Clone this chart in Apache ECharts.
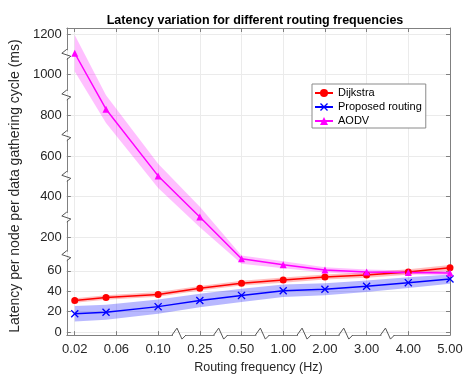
<!DOCTYPE html>
<html><head><meta charset="utf-8">
<script src="https://cdn.jsdelivr.net/npm/echarts@6/dist/echarts.min.js"></script>
<style>html,body{margin:0;padding:0;background:#fff}#c{width:474px;height:379px}</style>
</head><body><div id="c"></div>
<script>
// ---- data ----
const freqs = [0.02, 0.05, 0.10, 0.25, 0.50, 1.00, 2.00, 3.00, 4.00, 5.00];
const dijkstra    = [31, 34, 37, 43, 48, 51, 54, 56, 59, 63];
const dijkstraErr = [2.2, 2.2, 2.3, 2.3, 2.4, 2.5, 2.5, 2.6, 2.7, 2.8];
const proposed    = [18, 19.5, 25, 31, 36, 40.5, 42, 45, 48.5, 52];
const proposedErr = [7.6, 7.3, 7.0, 6.7, 6.4, 6.1, 5.9, 5.6, 5.2, 4.5];
const aodv        = [1105, 830, 502, 300, 72, 66, 61, 59, 58.5, 58];
const aodvErr     = [90, 68, 60, 50, 5, 3.5, 2.6, 2.5, 2, 2];
const xTickFreqs  = [0.02, 0.06, 0.10, 0.25, 0.50, 1.00, 2.00, 3.00, 4.00, 5.00];
const xTickLabels = ['0.02','0.06','0.10','0.25','0.50','1.00','2.00','3.00','4.00','5.00'];
const yTickValues = [0, 20, 40, 60, 200, 400, 600, 800, 1000, 1200];
const yTickLabels = ['0','20','40','60','200','400','600','800','1000','1200'];
const yBreakMarks = [1100, 900, 700, 500, 300, 92];
const xBreakMarks = [0.10, 0.25, 0.50, 1.00, 2.00, 3.00, 4.00];

// ---- broken-axis transforms ----
const upperCats = [0.25, 0.5, 1, 2, 3, 4, 5];
function xT(f) {
  if (f <= 0.10 + 1e-9) return (f - 0.02) / 0.04;
  for (let i = 0; i < upperCats.length; i++) if (Math.abs(upperCats[i] - f) < 1e-9) return 3 + i;
  return 3;
}
const LOW = 62 / 60, UP = 0.206;
function yT(v) {
  if (v <= 75) return v * LOW;
  if (v >= 110) return 96 + (v - 200) * UP;
  const a = 75 * LOW, b = 96 + (110 - 200) * UP;
  return a + (v - 75) / 35 * (b - a);
}
const xTickPos = xTickFreqs.map(xT);
const yTickPos = yTickValues.map(yT);
function xLab(v) { for (let i = 0; i < xTickPos.length; i++) if (Math.abs(xTickPos[i] - v) < 1e-3) return xTickLabels[i]; return ''; }
function yLab(v) { for (let i = 0; i < yTickPos.length; i++) if (Math.abs(yTickPos[i] - v) < 1e-3) return yTickLabels[i]; return ''; }

const AX = '#808080', TXT = '#262626', GRID = '#ebebeb';
const FONT = 'Liberation Sans, Arial, sans-serif';

function pts(vals) { return freqs.map((f, i) => [xT(f), yT(vals[i])]); }
function band(vals, errs, color, op) {
  return {
    type: 'custom', silent: true, z: 1,
    data: freqs.map((f, i) => [xT(f), yT(vals[i] - errs[i]), yT(vals[i] + errs[i])]),
    encode: { x: 0, y: [1, 2] },
    renderItem: function (params, api) {
      if (params.dataIndex !== 0) return null;
      const up = [], lo = [];
      for (let i = 0; i < freqs.length; i++) {
        up.push(api.coord([xT(freqs[i]), yT(vals[i] + errs[i])]));
        lo.push(api.coord([xT(freqs[i]), yT(vals[i] - errs[i])]));
      }
      return { type: 'polygon', shape: { points: up.concat(lo.reverse()) },
               style: { fill: color, opacity: op, stroke: null } };
    }
  };
}
const xSym = 'path://M0,1.2L1.2,0L5,3.8L8.8,0L10,1.2L6.2,5L10,8.8L8.8,10L5,6.2L1.2,10L0,8.8L3.8,5Z';

function xAxisBase(pos, main) {
  return {
    type: 'value', position: pos, min: -0.19, max: 9,
    axisLine: { show: true, onZero: false, lineStyle: { color: AX, width: 1 } },
    axisTick: { show: true, inside: true, length: 4, customValues: xTickPos, lineStyle: { color: AX } },
    axisLabel: { show: main, customValues: xTickPos, formatter: xLab, color: TXT, fontSize: 13, fontFamily: FONT, margin: 8 },
    splitLine: { show: main, lineStyle: { color: GRID, width: 1 } },
    name: main ? 'Routing frequency (Hz)' : '', nameLocation: 'middle', nameGap: 23,
    nameTextStyle: { color: TXT, fontSize: 12.5, fontFamily: FONT }
  };
}
function yAxisBase(pos, main) {
  return {
    type: 'value', position: pos, min: -3, max: 308,
    axisLine: { show: true, onZero: false, lineStyle: { color: AX, width: 1 } },
    axisTick: { show: true, inside: true, length: 4, customValues: yTickPos, lineStyle: { color: AX } },
    axisLabel: { show: main, customValues: yTickPos, formatter: yLab, color: TXT, fontSize: 13, fontFamily: FONT, margin: 5 },
    splitLine: { show: main, lineStyle: { color: GRID, width: 1 } },
    name: main ? 'Latency per node per data gathering cycle (ms)' : '', nameLocation: 'middle', nameGap: 33,
    nameTextStyle: { color: TXT, fontSize: 14, fontFamily: FONT, padding: [0, 0, 0, -9] }
  };
}

const chart = echarts.init(document.getElementById('c'));
chart.setOption({
  animation: false,
  backgroundColor: '#fff',
  title: { text: 'Latency variation for different routing frequencies', left: 250, textAlign: 'center', top: 9,
           textStyle: { fontSize: 12.5, fontWeight: 'bold', color: '#000', fontFamily: FONT } },
  grid: { left: 51, right: 24, top: 28, bottom: 40, containLabel: false },
  legend: {
    data: ['Dijkstra', 'Proposed routing', 'AODV'], orient: 'vertical', left: 312, top: 84,
    backgroundColor: '#fff', borderColor: '#8a8a8a', borderWidth: 1, padding: [2, 4, 0, 2],
    itemWidth: 18, itemHeight: 10, itemGap: 0,
    textStyle: { fontSize: 11, color: '#000', fontFamily: FONT, lineHeight: 14 }
  },
  xAxis: [xAxisBase('bottom', true), xAxisBase('top', false)],
  yAxis: [yAxisBase('left', true), yAxisBase('right', false)],
  series: [
    band(dijkstra, dijkstraErr, '#ff0000', 0.25),
    band(proposed, proposedErr, '#0000ff', 0.28),
    band(aodv, aodvErr, '#ff00ff', 0.25),
    { type: 'line', name: 'Dijkstra', data: pts(dijkstra), symbol: 'circle', symbolSize: 7, z: 3,
      lineStyle: { color: '#ff0000', width: 1.5 }, itemStyle: { color: '#ff0000' } },
    { type: 'line', name: 'Proposed routing', data: pts(proposed), symbol: xSym, symbolSize: 8, z: 3,
      lineStyle: { color: '#0000ff', width: 1.5 }, itemStyle: { color: '#0000ff' } },
    { type: 'line', name: 'AODV', data: pts(aodv), symbol: 'triangle', symbolSize: 7, z: 3,
      lineStyle: { color: '#ff00ff', width: 1.5 }, itemStyle: { color: '#ff00ff' } }
  ]
});

// axis-break zigzags positioned from the axes
const g = [];
yBreakMarks.forEach(v => {
  const p = chart.convertToPixel({ gridIndex: 0 }, [-0.19, yT(v)]);
  const x = p[0], y = p[1];
  g.push({ type: 'rect', shape: { x: x - 1, y: y - 4, width: 2, height: 8 }, style: { fill: '#fff' }, z: 10 });
  g.push({ type: 'polyline', z: 11, shape: { points: [[x, y - 5], [x - 5, y - 1], [x + 4, y + 2], [x, y + 5]] },
           style: { stroke: '#555', lineWidth: 1, fill: null } });
});
for (let i = 0; i < xBreakMarks.length - 1; i++) {
  const mid = (xT(xBreakMarks[i]) + xT(xBreakMarks[i + 1])) / 2;
  const p = chart.convertToPixel({ gridIndex: 0 }, [mid, -3]);
  const x = p[0], y = p[1];
  g.push({ type: 'rect', shape: { x: x - 6, y: y - 1, width: 12, height: 2 }, style: { fill: '#fff' }, z: 10 });
  g.push({ type: 'polyline', z: 11, shape: { points: [[x - 7, y], [x - 2, y - 7], [x + 3, y + 4], [x + 7, y]] },
           style: { stroke: '#555', lineWidth: 1, fill: null } });
}
chart.setOption({ graphic: g });
</script></body></html>
